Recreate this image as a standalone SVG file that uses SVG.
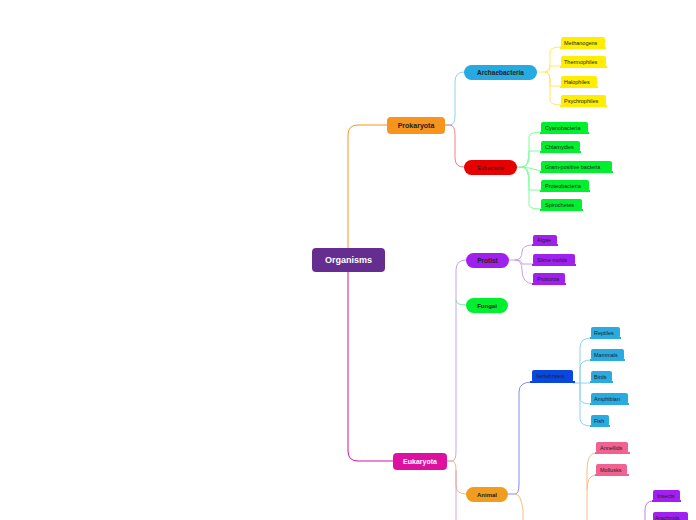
<svg xmlns="http://www.w3.org/2000/svg" width="696" height="520" viewBox="0 0 696 520">
<style>
text{font-family:"Liberation Sans",Arial,sans-serif;dominant-baseline:central;text-anchor:middle;fill:#222}
.m{font-size:7px;font-weight:bold}
.l{font-size:5.5px;text-anchor:start}
.c{fill:none;stroke-width:1}
</style>
<rect width="696" height="520" fill="#fff"/>
<g id="connectors">
<path class="c" stroke="#f7941d" stroke-width="1.5" d="M348 248 V135 Q348 125 358 125 H387"/>
<path class="c" stroke="#d6119f" stroke-width="1.5" d="M348 272 V451 Q348 461 358 461 H393"/>
<path class="c" stroke="#8fd3f0" d="M445 125 H450 Q455 125 455 115 V82 Q455 72 464 72"/>
<path class="c" stroke="#f08080" d="M445 125 H450 Q455 125 455 135 V158 Q455 167 464 167"/>
<path class="c" stroke="#ffe860" d="M537 72 H545 Q550 72 550 62 V52 Q550 47 561 47 M545 72 Q550 72 550 66 Q550 66 561 66 M545 72 Q550 72 550 80 V86 H561 M545 72 Q550 72 550 82 V100 Q550 105 561 105"/>
<path class="c" stroke="#7dff9a" d="M517 167 H522 Q529 167 529 150 V137 Q529 132 541 132 M522 167 Q529 167 529 156 V151 H541 M517 167 Q530 167 541 171 M522 167 Q529 167 529 178 V190 H541 M522 167 Q529 167 529 185 V205 Q529 209 541 209"/>
<path class="c" stroke="#c9a0f0" d="M447 461 H452 Q456 461 456 451 V270 Q456 260 466 260"/>
<path class="c" stroke="#7be0a0" d="M456 300 Q456 305 466 305"/>
<path class="c" stroke="#f5b870" d="M447 461 H452 Q456 461 456 471 V485 Q456 494 466 494"/>
<path class="c" stroke="#e0a0d0" d="M456 470 V520"/>
<path class="c" stroke="#c9a0f0" d="M509 260 H515 Q522 260 522 252 Q522 245 533 245 M515 260 Q522 260 522 264 H533 M515 260 Q522 260 522 270 Q522 283 533 284"/>
<path class="c" stroke="#8888ee" d="M508 494 H515 Q519 494 519 484 V392 Q519 382 532 382"/>
<path class="c" stroke="#f5c080" d="M515 494 Q521 494 523 510 V520"/>
<path class="c" stroke="#8fd3f0" d="M573 383 H580 Q580 383 580 370 V348 Q580 338 591 338 M580 383 Q580 370 580 368 Q580 360 591 360 M580 383 H591 M580 383 Q580 396 580 398 Q580 404 591 404 M580 383 V418 Q580 426 591 426"/>
<path class="c" stroke="#f5c080" d="M587 520 V470 Q587 453 596 453 M587 490 Q587 475 596 475"/>
<path class="c" stroke="#c080f0" d="M645 520 V510 Q645 501 653 501"/>
</g>
<g id="organisms"><rect x="312" y="248" width="73" height="24" rx="4" fill="#662d91"/><text x="348.5" y="260" style="font-size:9px;font-weight:bold;fill:#fff">Organisms</text></g>
<g id="prokaryota"><rect x="387" y="117" width="58" height="17" rx="4" fill="#f7941d"/><text class="m" x="416" y="125.5">Prokaryota</text></g>
<g id="eukaryota"><rect x="393" y="453" width="54" height="17" rx="4" fill="#dd10a0"/><text class="m" x="420" y="461.5" style="fill:#fff">Eukaryota</text></g>
<g id="archaebacteria"><rect x="464" y="65" width="73" height="15" rx="7.5" fill="#27aae1"/><text class="m" x="500.5" y="72.5" style="font-size:6.5px">Archaebacteria</text></g>
<g id="eubacteria"><rect x="464" y="160" width="53" height="15" rx="7.5" fill="#e60000"/><text x="490.5" y="167.5" style="font-size:5.5px">Eubacteria</text></g>
<g id="protist"><rect x="466" y="253" width="43" height="15" rx="7.5" fill="#a020f0"/><text class="m" x="487.5" y="260.5" style="font-size:6.5px">Protist</text></g>
<g id="fungai"><rect x="466" y="298" width="42" height="15" rx="7.5" fill="#00f030"/><text class="m" x="487" y="305.5" style="font-size:6px">Fungai</text></g>
<g id="animal"><rect x="466" y="487" width="42" height="15" rx="7.5" fill="#f29c1f"/><text class="m" x="487" y="494.5" style="font-size:6px">Animal</text></g>
<g id="vertebrates"><rect x="532" y="370" width="41" height="12" rx="2" fill="#0a46e0"/><rect x="530" y="381" width="45" height="2" fill="#0a46e0"/><text class="l" x="536" y="376">Vertebrates</text></g>
<g fill="#ffee00">
<g id="methanogens"><rect x="561" y="37" width="44" height="11" rx="2"/><rect x="560" y="47" width="46" height="2"/><text class="l" x="564" y="42.5">Methanogens</text></g>
<g id="thermophiles"><rect x="561" y="56" width="45" height="11" rx="2"/><rect x="560" y="66" width="47" height="2"/><text class="l" x="564" y="61.5">Thermophiles</text></g>
<g id="halophiles"><rect x="561" y="76" width="36" height="11" rx="2"/><rect x="560" y="86" width="38" height="2"/><text class="l" x="564" y="81.5">Halophiles</text></g>
<g id="psychrophiles"><rect x="561" y="95" width="45" height="11" rx="2"/><rect x="560" y="105" width="47" height="2"/><text class="l" x="564" y="100.5">Psychrophiles</text></g>
</g>
<g fill="#00f030">
<g id="cyanobacteria"><rect x="541" y="122" width="47" height="11" rx="2"/><rect x="540" y="132" width="49" height="2"/><text class="l" x="545" y="127.5">Cyanobacteria</text></g>
<g id="chlamydies"><rect x="541" y="141" width="39" height="11" rx="2"/><rect x="540" y="151" width="41" height="2"/><text class="l" x="545" y="146.5">Chlamydies</text></g>
<g id="gram"><rect x="541" y="161" width="71" height="11" rx="2"/><rect x="540" y="171" width="73" height="2"/><text class="l" x="545" y="166.5">Gram-positive bacteria</text></g>
<g id="proteobacteria"><rect x="541" y="180" width="48" height="11" rx="2"/><rect x="540" y="190" width="50" height="2"/><text class="l" x="545" y="185.5">Proteobacteria</text></g>
<g id="spirochetes"><rect x="541" y="199" width="41" height="11" rx="2"/><rect x="540" y="209" width="43" height="2"/><text class="l" x="545" y="204.5">Spirochetes</text></g>
</g>
<g fill="#a020f0">
<g id="algae"><rect x="533" y="235" width="24" height="10" rx="2"/><rect x="532" y="244" width="26" height="2"/><text class="l" x="537" y="240">Algae</text></g>
<g id="slime"><rect x="533" y="254" width="42" height="11" rx="2"/><rect x="532" y="264" width="44" height="2"/><text class="l" x="537" y="259.5">Slime molds</text></g>
<g id="protozoa"><rect x="533" y="273" width="32" height="11" rx="2"/><rect x="532" y="283" width="34" height="2"/><text class="l" x="537" y="278.5">Protozoa</text></g>
<g id="insects"><rect x="653" y="490" width="27" height="11" rx="2"/><rect x="652" y="500" width="29" height="2"/><text class="l" x="657" y="495.5">Insects</text></g>
<g id="arachnids"><rect x="653" y="512" width="35" height="11" rx="2"/><text class="l" x="655" y="517.5">Arachnids</text></g>
</g>
<g fill="#29abe2">
<g id="reptiles"><rect x="591" y="327" width="29" height="11" rx="2"/><rect x="590" y="337" width="31" height="2"/><text class="l" x="594" y="332.5">Reptiles</text></g>
<g id="mammals"><rect x="591" y="349" width="33" height="11" rx="2"/><rect x="590" y="359" width="35" height="2"/><text class="l" x="594" y="354.5">Mammals</text></g>
<g id="birds"><rect x="591" y="371" width="21" height="11" rx="2"/><rect x="590" y="381" width="23" height="2"/><text class="l" x="594" y="376.5">Birds</text></g>
<g id="amphibian"><rect x="591" y="393" width="37" height="11" rx="2"/><rect x="590" y="403" width="39" height="2"/><text class="l" x="594" y="398.5">Amphibian</text></g>
<g id="fish"><rect x="591" y="415" width="18" height="11" rx="2"/><rect x="590" y="425" width="20" height="2"/><text class="l" x="594" y="420.5">Fish</text></g>
</g>
<g fill="#f06292">
<g id="annellids"><rect x="596" y="442" width="32" height="11" rx="2"/><rect x="595" y="452" width="35" height="2"/><text class="l" x="600" y="447.5">Annellids</text></g>
<g id="mollusks"><rect x="596" y="464" width="31" height="11" rx="2"/><rect x="595" y="474" width="34" height="2"/><text class="l" x="600" y="469.5">Mollusks</text></g>
</g>
</svg>
